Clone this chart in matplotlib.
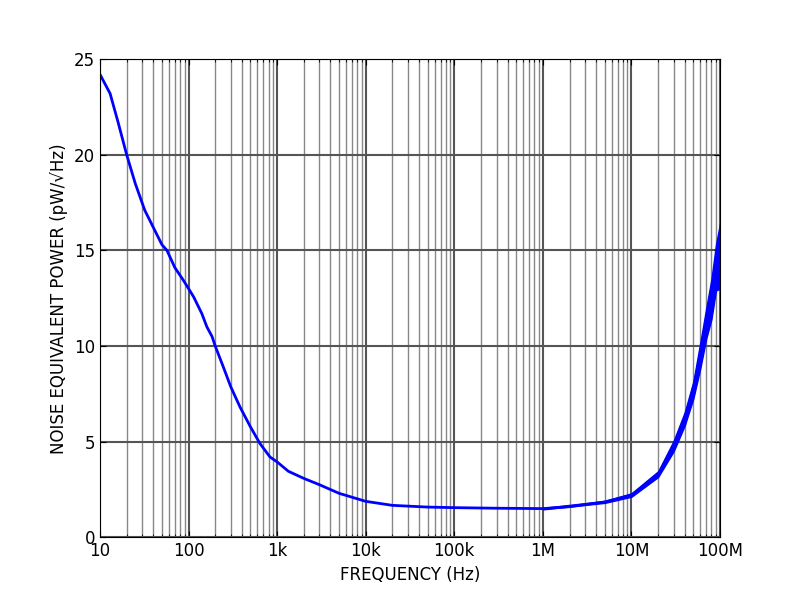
import numpy as np
import matplotlib
matplotlib.use("Agg")
import matplotlib.pyplot as plt

# NEP vs frequency
freq = [10, 13, 16, 20, 25, 32, 40, 50, 57, 70, 87, 100, 114, 141, 161, 184,
        200, 247, 300, 381, 500, 640, 830, 1e3, 1.34e3, 2e3, 3e3, 5e3, 1e4,
        2e4, 5e4, 1e5, 3e5, 1e6, 2e6, 5e6, 1e7, 1.5e7, 2e7, 2.3e7, 3e7, 4e7,
        4.7e7, 5e7, 6e7, 7e7, 8e7, 9e7, 1e8]
nep = [24.2, 23.2, 21.7, 20.0, 18.5, 17.1, 16.2, 15.3, 15.0, 14.1, 13.45, 13.0,
       12.57, 11.7, 11.0, 10.5, 10.0, 8.9, 7.86, 6.81, 5.77, 4.9, 4.2, 3.94,
       3.45, 3.08, 2.75, 2.3, 1.88, 1.67, 1.58, 1.55, 1.52, 1.5, 1.6, 1.85,
       2.2, 2.8, 3.3, 3.68, 4.8, 6.2, 7.2, 7.7, 9.6, 11.2, 12.4, 14.0, 14.7]

# spread of the noisy trace at high frequency
hf_freq = [1e6, 5e6, 1e7, 2e7, 3e7, 4e7, 5e7, 6e7, 7e7, 8e7, 9e7, 1e8]
hf_lower = [1.46, 1.8, 2.12, 3.15, 4.5, 5.85, 7.25, 8.85, 10.4, 11.4, 12.9, 13.0]
hf_upper = [1.54, 1.9, 2.3, 3.45, 5.05, 6.55, 8.15, 10.2, 12.0, 13.5, 15.3, 16.4]

xticks = [1e1, 1e2, 1e3, 1e4, 1e5, 1e6, 1e7, 1e8]
xlabels = ["10", "100", "1k", "10k", "100k", "1M", "10M", "100M"]

plt.rcParams["xtick.direction"] = "in"
plt.rcParams["ytick.direction"] = "in"
plt.rcParams["font.size"] = 12

fig = plt.figure(figsize=(8, 5.97), dpi=100)
ax = fig.add_axes([0.125, 0.1, 0.775, 0.801])

ax.fill_between(hf_freq, hf_lower, hf_upper, color="blue", lw=1)
ax.semilogx(freq, nep, color="blue", lw=2)

ax.set_xlim(10, 1e8)
ax.set_ylim(0, 25)
ax.set_xticks(xticks)
ax.set_xticklabels(xlabels)
ax.set_yticks([0, 5, 10, 15, 20, 25])
ax.tick_params(which="both", top=True, right=True)
ax.tick_params(which="major", length=4)
ax.tick_params(which="minor", length=2)

ax.grid(True, which="major", color="#555555", lw=1.5)
ax.grid(True, which="minor", axis="x", color="#888888", lw=1)
ax.set_axisbelow(True)

ax.set_xlabel("FREQUENCY (Hz)")
ax.set_ylabel("NOISE EQUIVALENT POWER (pW/\u221aHz)")

fig.savefig("out.png", dpi=100, facecolor="white")
